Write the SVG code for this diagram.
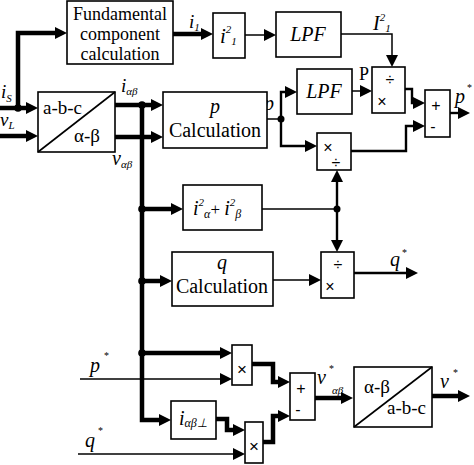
<svg xmlns="http://www.w3.org/2000/svg" width="474" height="465" viewBox="0 0 474 465" font-family="'Liberation Serif', 'Times New Roman', serif">
<defs>
<marker id="ah" markerUnits="userSpaceOnUse" markerWidth="13" markerHeight="12" refX="6" refY="6" orient="auto" viewBox="0 0 13 12"><path d="M0,0 L12,6 L0,12 z" fill="#000" stroke="none"/></marker>
</defs>

<g id="connectors" fill="none" stroke="#000">
<g stroke-width="4.5">
<path d="M0,108 H32" marker-end="url(#ah)"/>
<path d="M18,108 V33 H61" marker-end="url(#ah)"/>
<path d="M0,136 H32" marker-end="url(#ah)"/>
<path d="M173,34 H207" marker-end="url(#ah)"/>
<path d="M115,105 H157" marker-end="url(#ah)"/>
<path d="M115,137 H157" marker-end="url(#ah)"/>
<path d="M142,105 V420 H165" marker-end="url(#ah)"/>
<path d="M142,209 H177" marker-end="url(#ah)"/>
<path d="M142,281 H166" marker-end="url(#ah)"/>
<path d="M142,353 H226" marker-end="url(#ah)"/>
<path d="M252,364 H273 V382 H284" marker-end="url(#ah)"/>
<path d="M216,419 H227 V430 H239" marker-end="url(#ah)"/>
<path d="M263,442 H273 V416 H284" marker-end="url(#ah)"/>
<path d="M315,398 H347" marker-end="url(#ah)"/>
<path d="M432,396 H464" marker-end="url(#ah)"/>
</g>
<g stroke-width="2.4">
<path d="M337,209 V176" marker-end="url(#ah)"/>
<path d="M337,209 V246" marker-end="url(#ah)"/>
<path d="M281,119 V92 H291" marker-end="url(#ah)"/>
<path d="M281,119 V146 H311" marker-end="url(#ah)"/>
<path d="M405,89 H412 V103 H419" marker-end="url(#ah)"/>
<path d="M351,151 H406 V126 H419" marker-end="url(#ah)"/>
<path d="M450,113 H464" marker-end="url(#ah)"/>
<path d="M354,273 H412" marker-end="url(#ah)"/>
</g>
<g stroke-width="1.5">
<path d="M245,35 H270" marker-end="url(#ah)"/>
<path d="M341,34 H392 V61" marker-end="url(#ah)"/>
<path d="M267,119 H281"/>
<path d="M352,91 H366" marker-end="url(#ah)"/>
<path d="M262,209 H337"/>
<path d="M273,280 H315" marker-end="url(#ah)"/>
<path d="M80,379 H226" marker-end="url(#ah)"/>
<path d="M78,454 H239" marker-end="url(#ah)"/>
</g>
<g fill="#000" stroke="none">
<circle cx="18" cy="108" r="3.8"/>
<circle cx="142" cy="105" r="3.8"/>
<circle cx="142" cy="209" r="3.8"/>
<circle cx="142" cy="281" r="3.8"/>
<circle cx="142" cy="353" r="3.8"/>
<circle cx="281" cy="119" r="3.5"/>
<circle cx="337" cy="209" r="3.5"/>
</g>
</g>

<g id="labels" fill="#000">
<text x="1" y="98" font-family="Times New Roman, serif" font-size="19" font-style="italic">i<tspan font-size="11" dy="4">S</tspan></text>
<text x="0" y="126" font-family="Times New Roman, serif" font-size="19" font-style="italic">v<tspan font-size="11" dy="3">L</tspan></text>
<text x="189" y="28" font-family="Times New Roman, serif" font-size="19" font-style="italic">i<tspan font-size="11" dy="3">1</tspan></text>
<text x="373" y="30" font-family="Times New Roman, serif" font-size="20" font-style="italic">I<tspan font-size="11" dy="-9">2</tspan><tspan font-size="11" dy="11">1</tspan></text>
<text x="121" y="92" font-family="Times New Roman, serif" font-size="19" font-style="italic">i<tspan font-size="11" dy="3">αβ</tspan></text>
<text x="112" y="165" font-family="Times New Roman, serif" font-size="20" font-style="italic">v<tspan font-size="11" dy="3">αβ</tspan></text>
<text x="264" y="110" font-family="Times New Roman, serif" font-size="20" font-style="italic">p</text>
<text x="359" y="80" font-family="Times New Roman, serif" font-size="18">P</text>
<text x="455" y="103" font-family="Times New Roman, serif" font-size="20" font-style="italic">p</text>
<text x="467" y="91" font-family="Times New Roman, serif" font-size="10">*</text>
<text x="390" y="266" font-family="Times New Roman, serif" font-size="20" font-style="italic">q</text>
<text x="402" y="256" font-family="Times New Roman, serif" font-size="10">*</text>
<text x="90" y="372" font-family="Times New Roman, serif" font-size="20" font-style="italic">p</text>
<text x="104" y="359" font-family="Times New Roman, serif" font-size="10">*</text>
<text x="85" y="447" font-family="Times New Roman, serif" font-size="20" font-style="italic">q</text>
<text x="98" y="434" font-family="Times New Roman, serif" font-size="10">*</text>
<text x="317" y="384" font-family="Times New Roman, serif" font-size="20" font-style="italic">v</text>
<text x="329" y="372" font-family="Times New Roman, serif" font-size="10">*</text>
<text x="332" y="394" font-family="Times New Roman, serif" font-size="11" font-style="italic">αβ</text>
<text x="440" y="388" font-family="Times New Roman, serif" font-size="20" font-style="italic">v</text>
<text x="453" y="376" font-family="Times New Roman, serif" font-size="10">*</text>
</g>

<g id="fundamental">
<rect x="67" y="1" width="106" height="63" fill="#fff" stroke="#000" stroke-width="1.6"/>
<text x="120" y="20" font-family="Times New Roman, serif" font-size="18" text-anchor="middle">Fundamental</text>
<text x="120" y="40" font-family="Times New Roman, serif" font-size="18" text-anchor="middle">component</text>
<text x="120" y="60" font-family="Times New Roman, serif" font-size="18" text-anchor="middle">calculation</text>
</g>

<g id="abc-ab">
<rect x="38" y="92" width="77" height="60" fill="#fff" stroke="#000" stroke-width="1.6"/>
<line x1="38" y1="152" x2="115" y2="92" stroke="#000" stroke-width="1.6"/>
<text x="43" y="114" font-family="Times New Roman, serif" font-size="19">a-b-c</text>
<text x="74" y="142" font-family="Times New Roman, serif" font-size="19">α-β</text>
</g>

<g id="i1sq">
<rect x="213" y="13" width="32" height="45" fill="#fff" stroke="#000" stroke-width="1.6"/>
<text x="220" y="43" font-family="Times New Roman, serif" font-size="21" font-style="italic">i<tspan font-size="11" dy="-10">2</tspan><tspan font-size="11" dy="12">1</tspan></text>
</g>

<g id="lpf1">
<rect x="276" y="12" width="65" height="45" fill="#fff" stroke="#000" stroke-width="1.6"/>
<text x="308" y="41" font-family="Times New Roman, serif" font-size="20" font-style="italic" text-anchor="middle">LPF</text>
</g>

<g id="div1">
<rect x="372" y="67" width="33" height="46" fill="#fff" stroke="#000" stroke-width="1.6"/>
<text x="390" y="85" font-family="Liberation Sans, sans-serif" font-size="16" text-anchor="middle">÷</text>
<text x="382" y="107" font-family="Liberation Sans, sans-serif" font-size="16" text-anchor="middle">×</text>
</g>

<g id="lpf2">
<rect x="297" y="69" width="55" height="45" fill="#fff" stroke="#000" stroke-width="1.6"/>
<text x="324" y="98" font-family="Times New Roman, serif" font-size="20" font-style="italic" text-anchor="middle">LPF</text>
</g>

<g id="sum1">
<rect x="425" y="90" width="25" height="47" fill="#fff" stroke="#000" stroke-width="1.6"/>
<text x="436" y="111" font-family="Liberation Sans, sans-serif" font-size="16" text-anchor="middle">+</text>
<text x="433" y="132" font-family="Liberation Sans, sans-serif" font-size="16" text-anchor="middle">-</text>
</g>

<g id="pcalc">
<rect x="163" y="92" width="104" height="56" fill="#fff" stroke="#000" stroke-width="1.6"/>
<text x="215" y="113" font-family="Times New Roman, serif" font-size="20" font-style="italic" text-anchor="middle">p</text>
<text x="215" y="137" font-family="Times New Roman, serif" font-size="20" text-anchor="middle">Calculation</text>
</g>

<g id="muldiv">
<rect x="317" y="133" width="34" height="37" fill="#fff" stroke="#000" stroke-width="1.6"/>
<text x="328" y="153" font-family="Liberation Sans, sans-serif" font-size="16" text-anchor="middle">×</text>
<text x="336" y="168" font-family="Liberation Sans, sans-serif" font-size="16" text-anchor="middle">÷</text>
</g>

<g id="isum">
<rect x="183" y="185" width="79" height="45" fill="#fff" stroke="#000" stroke-width="1.6"/>
<text x="193" y="215" font-family="Times New Roman, serif" font-size="20" font-style="italic">i<tspan font-size="11" dy="-9">2</tspan><tspan font-size="12" dy="12">α</tspan><tspan font-size="17" font-style="normal" dy="-3">+ </tspan>i<tspan font-size="11" dy="-9">2</tspan><tspan font-size="12" dy="12">β</tspan></text>
</g>

<g id="qcalc">
<rect x="172" y="252" width="101" height="54" fill="#fff" stroke="#000" stroke-width="1.6"/>
<text x="222" y="269" font-family="Times New Roman, serif" font-size="20" font-style="italic" text-anchor="middle">q</text>
<text x="222" y="293" font-family="Times New Roman, serif" font-size="20" text-anchor="middle">Calculation</text>
</g>

<g id="divq">
<rect x="321" y="252" width="33" height="46" fill="#fff" stroke="#000" stroke-width="1.6"/>
<text x="338" y="270" font-family="Liberation Sans, sans-serif" font-size="16" text-anchor="middle">÷</text>
<text x="330" y="292" font-family="Liberation Sans, sans-serif" font-size="16" text-anchor="middle">×</text>
</g>

<g id="mul1">
<rect x="232" y="345" width="20" height="40" fill="#fff" stroke="#000" stroke-width="1.6"/>
<text x="242" y="375" font-family="Liberation Sans, sans-serif" font-size="17" text-anchor="middle">×</text>
</g>

<g id="iperp">
<rect x="171" y="401" width="45" height="38" fill="#fff" stroke="#000" stroke-width="1.6"/>
<text x="179" y="425" font-family="Times New Roman, serif" font-size="20" font-style="italic">i<tspan font-size="12" dy="2">αβ⊥</tspan></text>
</g>

<g id="mul2">
<rect x="245" y="422" width="18" height="41" fill="#fff" stroke="#000" stroke-width="1.6"/>
<text x="254" y="452" font-family="Liberation Sans, sans-serif" font-size="17" text-anchor="middle">×</text>
</g>

<g id="sum2">
<rect x="290" y="373" width="25" height="47" fill="#fff" stroke="#000" stroke-width="1.6"/>
<text x="301" y="394" font-family="Liberation Sans, sans-serif" font-size="16" text-anchor="middle">+</text>
<text x="298" y="415" font-family="Liberation Sans, sans-serif" font-size="16" text-anchor="middle">-</text>
</g>

<g id="ab-abc">
<rect x="354" y="367" width="78" height="60" fill="#fff" stroke="#000" stroke-width="1.6"/>
<line x1="354" y1="427" x2="432" y2="367" stroke="#000" stroke-width="1.6"/>
<text x="364" y="393" font-family="Times New Roman, serif" font-size="19">α-β</text>
<text x="387" y="414" font-family="Times New Roman, serif" font-size="19">a-b-c</text>
</g>
</svg>
